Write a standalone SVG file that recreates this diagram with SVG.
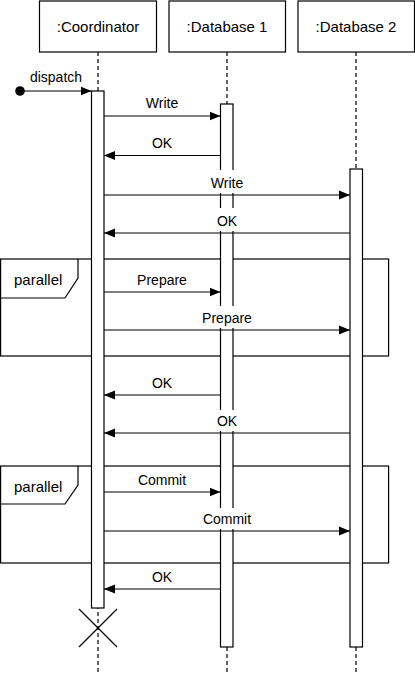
<svg xmlns="http://www.w3.org/2000/svg" width="415" height="674" viewBox="0 0 415 674">
<style>
text{font-family:"Liberation Sans",Arial,sans-serif;fill:#000}
.hd{font-size:15px;text-anchor:middle}
.lb{font-size:14px;text-anchor:middle}
.fr{font-size:15px}
.box{fill:#fff;stroke:#000;stroke-width:1.2}
.life{stroke:#000;stroke-width:1.2;stroke-dasharray:4 3;fill:none}
.msg{stroke:#000;stroke-width:1.2;fill:none;marker-end:url(#ah)}
.act{fill:#fff;stroke:#000;stroke-width:1.2}
.frame{fill:none;stroke:#000;stroke-width:1.2}
.bg{fill:#fff}
</style>
<defs>
<marker id="ah" markerWidth="12" markerHeight="10" refX="11" refY="5" orient="auto" markerUnits="userSpaceOnUse">
<path d="M0,0.5 L11,5 L0,9.5 Z" fill="#000"/>
</marker>
</defs>
<g id="coordinator">
<rect class="box" x="39.5" y="1" width="117" height="51"/>
<text class="hd" x="98" y="32">:Coordinator</text>
<line class="life" x1="98" y1="52" x2="98" y2="674"/>
</g>
<g id="database1">
<rect class="box" x="169" y="1" width="116.5" height="51"/>
<text class="hd" x="227" y="32">:Database 1</text>
<line class="life" x1="227" y1="52" x2="227" y2="674"/>
</g>
<g id="database2">
<rect class="box" x="298" y="1" width="116.5" height="51"/>
<text class="hd" x="356" y="32">:Database 2</text>
<line class="life" x1="356" y1="52" x2="356" y2="674"/>
</g>
<g id="frame1">
<rect class="frame" x="0.6" y="259" width="388" height="97"/>
<path class="frame" d="M78,259 L78,278 L65,298 L0.6,298"/>
<text class="fr" x="14" y="285">parallel</text>
</g>
<g id="frame2">
<rect class="frame" x="0.6" y="466" width="388" height="97"/>
<path class="frame" d="M78,466 L78,485 L65,504 L0.6,504"/>
<text class="fr" x="14" y="492">parallel</text>
</g>
<g id="activations">
<rect id="act-coordinator" class="act" x="91.5" y="91" width="12.5" height="517"/>
<rect id="act-db1" class="act" x="220.5" y="104" width="12.5" height="543"/>
<rect id="act-db2" class="act" x="350" y="169" width="12.5" height="478"/>
</g>
<g id="destroy">
<line x1="79" y1="609" x2="117" y2="647" stroke="#000" stroke-width="1.2"/>
<line x1="117" y1="609" x2="79" y2="647" stroke="#000" stroke-width="1.2"/>
</g>
<g id="connectors">
<circle cx="20" cy="91" r="4.8" fill="#000"/>
<line class="msg" x1="20" y1="91" x2="91.5" y2="91"/>
<text class="lb" x="56" y="82">dispatch</text>

<line class="msg" x1="104" y1="116" x2="220.5" y2="116"/>
<text class="lb" x="162" y="108">Write</text>

<line class="msg" x1="220.5" y1="155.5" x2="104" y2="155.5"/>
<text class="lb" x="162" y="148">OK</text>

<line class="msg" x1="104" y1="195" x2="350" y2="195"/>
<rect class="bg" x="208" y="170" width="38" height="23"/>
<text class="lb" x="227" y="188">Write</text>

<line class="msg" x1="350" y1="233" x2="104" y2="233"/>
<rect class="bg" x="213" y="208" width="28" height="23"/>
<text class="lb" x="227" y="226">OK</text>

<line class="msg" x1="104" y1="292" x2="220.5" y2="292"/>
<text class="lb" x="162" y="285">Prepare</text>

<line class="msg" x1="104" y1="330" x2="350" y2="330"/>
<rect class="bg" x="200" y="306" width="54" height="22"/>
<text class="lb" x="227" y="323">Prepare</text>

<line class="msg" x1="220.5" y1="395" x2="104" y2="395"/>
<text class="lb" x="162" y="388">OK</text>

<line class="msg" x1="350" y1="433" x2="104" y2="433"/>
<rect class="bg" x="213" y="410" width="28" height="21"/>
<text class="lb" x="227" y="426">OK</text>

<line class="msg" x1="104" y1="492" x2="220.5" y2="492"/>
<text class="lb" x="162" y="485">Commit</text>

<line class="msg" x1="104" y1="531" x2="350" y2="531"/>
<rect class="bg" x="201" y="508" width="52" height="21"/>
<text class="lb" x="227" y="524">Commit</text>

<line class="msg" x1="220.5" y1="589" x2="104" y2="589"/>
<text class="lb" x="162" y="582">OK</text>
</g>
</svg>
